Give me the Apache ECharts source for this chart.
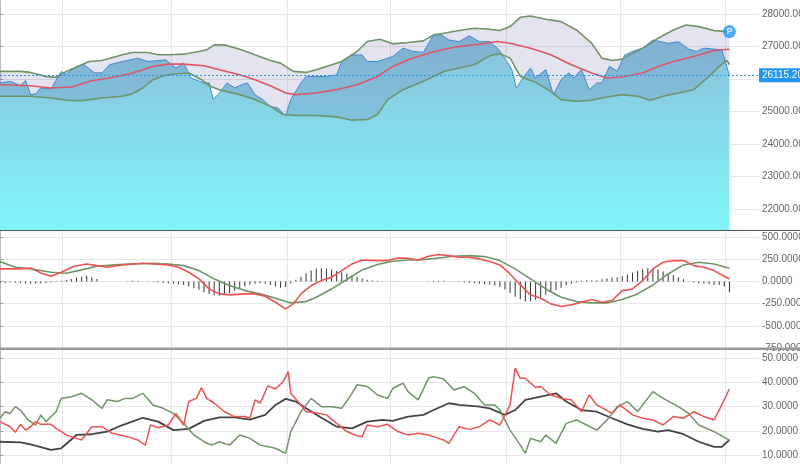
<!DOCTYPE html>
<html>
<head>
<meta charset="utf-8">
<script src="https://cdn.jsdelivr.net/npm/echarts@6/dist/echarts.min.js"></script>
<style>html,body{margin:0;padding:0;background:#fff}#c{width:800px;height:464px}</style>
</head>
<body>
<div id="c"></div>
<script>
// x is session number, y in price / indicator units
const price = [[0,25880],[2,25930],[4,25800],[5,25960],[6,25520],[7,25540],[8,25730],[10,25700],[12,26230],[13,26150],[15,26390],[16.5,26440],[18.5,26190],[20,26190],[21.5,26440],[24,26540],[27,26640],[29,26540],[32.5,26590],[34.5,26340],[36,26490],[37.5,26030],[40,25880],[41,25880],[41.8,25370],[43,25570],[44.5,25880],[46,25730],[47.5,25830],[48.5,25880],[50,25520],[51.5,25370],[53,25160],[54.5,25110],[56,24860],[57,25370],[59,25880],[60,26080],[64,26080],[66,26130],[67,26540],[69,26740],[71,26740],[72,26540],[74,26540],[77,26690],[79,26950],[81,26850],[83,26820],[85,27360],[86.5,27360],[88,27200],[90,27150],[92,27330],[94,27150],[96,27150],[97.5,26950],[99,26640],[100,26390],[100.5,26230],[101.2,25720],[102.5,26030],[104,26340],[105,26030],[107,26290],[108.5,25520],[110,25980],[111.5,26190],[112.5,26030],[114,26290],[115.5,25670],[117,25880],[118,25880],[119.5,26390],[121,26240],[122.5,26740],[124,26850],[126,26950],[128,27200],[129.5,27150],[131,27100],[133,27150],[135,26920],[136.5,26850],[138,26950],[140,26920],[141.5,26900],[142.2,26540],[143,26115.2]];
const ma = [[0,25827],[6,25796],[10,25725],[14,25756],[18,25950],[22,26050],[26,26184],[30,26388],[33,26460],[36,26460],[40,26408],[43,26286],[47,26133],[50,25980],[53,25796],[56,25572],[58,25521],[62,25572],[66,25674],[70,25827],[74,26082],[77,26388],[80,26592],[84,26796],[87,26918],[90,26999],[94,27071],[97.5,27153],[100,27102],[104,26949],[108,26745],[112,26439],[116,26184],[119,26031],[122,26062],[126,26184],[129,26388],[132,26541],[136,26694],[140,26878],[143,26918]];
const upper = [[0,26235],[4,26235],[6,26204],[9,26082],[11,26051],[13,26235],[16,26439],[17.5,26541],[20,26572],[24,26745],[26,26816],[29,26816],[31,26745],[33,26745],[36,26765],[39,26847],[40.5,26898],[42,27051],[44,27051],[47,26918],[50,26745],[53,26572],[55,26490],[57.5,26235],[60,26204],[62,26286],[64,26388],[67,26541],[70,26847],[72,27153],[74.5,27224],[77,27082],[80,27122],[83,27173],[85,27357],[87,27408],[90,27490],[93,27561],[96,27530],[98,27490],[100,27612],[102,27898],[104,27938],[107,27836],[110,27765],[113,27510],[116,27102],[118,26643],[120,26572],[122,26612],[124,26796],[126,26949],[129,27255],[132,27510],[134.5,27663],[137,27612],[140,27490],[143,27459]];
const lower = [[0,25470],[6,25470],[10,25419],[13,25348],[16,25337],[20,25419],[24,25470],[26,25552],[28,25725],[30,25980],[32,26102],[34,26153],[37,26184],[39.5,25980],[41,25796],[43,25674],[47,25521],[50,25368],[53,25164],[55.5,24909],[58,24878],[62,24878],[66,24838],[69,24736],[72,24756],[74,24909],[76,25368],[79,25674],[83,25929],[87,26235],[90,26337],[93,26439],[96,26714],[98,26776],[100,26643],[102,26082],[105,25898],[108,25623],[110,25368],[113,25317],[116,25348],[119,25450],[122,25521],[125,25470],[127.5,25348],[130,25470],[133,25572],[136,25674],[139,26082],[141,26388],[142.5,26572],[143,26439]];

const dif = [[0,143],[4,143],[6,154],[8,98],[10,60],[12,105],[14.5,173],[17,199],[19,180],[21,162],[24,188],[28,207],[30,199],[33,188],[35,162],[37,105],[39,30],[41,-83],[43,-139],[45,-150],[48,-139],[50,-139],[52,-165],[54,-233],[56,-308],[57.5,-252],[59,-139],[61,-45],[63,11],[65,49],[67,124],[69,199],[71,244],[74,237],[76,237],[78,267],[80,263],[82,244],[84,286],[86,305],[88,293],[90,274],[92,274],[94,256],[96,226],[98,188],[100,86],[102,-38],[104,-150],[106,-188],[108,-252],[110,-282],[112,-263],[114,-233],[116,-203],[118,-233],[120,-214],[122,-102],[124,-83],[126,11],[128,143],[130,218],[132,237],[134,237],[136,180],[138,162],[140,124],[142,60],[143,30]];
const dea = [[0,226],[3,162],[6,143],[10,105],[13,94],[16,132],[19,173],[22,188],[26,199],[30,207],[33,199],[36,180],[39,124],[42,30],[45,-45],[48,-102],[51,-139],[54,-188],[57,-241],[60,-226],[62,-177],[65,-83],[68,23],[71,132],[74,192],[77,229],[80,244],[83,248],[86,267],[89,286],[92,293],[95,282],[98,237],[101,143],[104,30],[107,-83],[110,-177],[113,-226],[116,-241],[119,-241],[122,-203],[125,-139],[128,-38],[131,86],[134,188],[137,218],[140,199],[143,150]];
const macdHist = [-20,-15,-10,-12,-15,-20,-25,-25,-22,-15,-10,-5,
  10,20,30,45,55,65,50,30, 5,0,0,0,0, 5,8,10,5,3,
  -5,-10,-15,-20,-25,-30,-40,
  -55,-75,-95,-120,-140,-155,-160,-150,-130,-105,-80,
  -55,-35,-25,-20,-25,-40,-55,-70,-60, -20,
  20,55,95,125,148,150,145,135,120,105,90,75,55,35,20,
  12,8,5,5,3,3,0,0,0,0,0, 5,8,10,8,5,3,
  -5,-10,-15,-20,-25,-30,-35,-45,-60,
  -90,-130,-170,-200,-225,-220,-205,-180,-150,-120,-95,-70,
  -45,-25,-10, 10,15,12,15,25,35,45,50,
  60,80,100,120,140,150,148,135,115,95,75,50,
  25,5,-10,-20,-25,-30,-35,-40,-55,-120];

const pdi = [[0,23.8],[2,21.7],[3,19.4],[4,22.7],[5,20.3],[6,21.7],[7,23.8],[8,22.7],[10,22.7],[11,21],[13,18.3],[15,16.9],[16,16.2],[18,21.7],[20,21.7],[22,19],[25,17.6],[27,16.2],[28.5,14.1],[29.5,22.4],[31,21.3],[33,22.4],[34.5,27.2],[36,22.4],[37,32.1],[38.5,33.4],[39.5,37.9],[40.5,33.4],[42,31.4],[44,27.9],[46,25.9],[48,25.9],[49,25.2],[50,32.8],[51,31.4],[52.5,38.6],[54,37.3],[55.5,40.3],[56.5,44.5],[57,35.5],[59,30.7],[60,27.9],[62,27.5],[64,26.6],[66,23.1],[68,19.7],[70,18],[71,17.6],[72,22.4],[74,21.7],[76,22.7],[78,19.7],[80,18.3],[82,19],[84,18.3],[86,16.9],[87,16.2],[88,14.8],[90,21.7],[92,20.6],[94,21.7],[96,24.5],[98,22.4],[100,30.7],[101,45.9],[102,41.7],[103,41.7],[105,37.9],[106,38.3],[108,34.8],[110,33.4],[112,32.8],[114,27.9],[115.5,34.8],[117,30.7],[120,27.2],[121.5,30.7],[124,26.6],[126,25.2],[128,24.5],[130,22.4],[132,25.9],[134,25.2],[136,27.9],[138,25.9],[140,24.5],[141.5,30.7],[143,37.3]];
const mdi = [[0,25.2],[1,27.9],[2,27.2],[3,30],[4,28.6],[5.5,24.5],[7,22.4],[8,26.6],[9,23.8],[11,27.9],[12,33.4],[14,34.1],[16,35.5],[18,32.8],[20,29.3],[21,32.8],[23,32.1],[24.5,33.4],[26,33.4],[28,35.5],[30,30.7],[32,29.3],[34,27.2],[36,23.1],[38,18.3],[40,15.5],[41.5,14.1],[43,15.5],[45,14.1],[47,18.3],[49,16.9],[51,14.1],[54,12.8],[56,10.7],[57,19.7],[59,27.9],[61,33.4],[63,30],[65,30],[67,29.3],[69,35.5],[70,39],[72,38.3],[74,34.8],[76,33.4],[77,37.5],[79,39.7],[80,36.2],[82,32.8],[84,41.7],[85,42.4],[87,41.4],[89,36.9],[91,38.3],[93,35.5],[95,30.7],[97,30.7],[98,28.6],[100,20.3],[102,14.1],[103,10.7],[104,16.9],[106,15.5],[107,18.3],[109,14.8],[111,23.1],[113,24.5],[115,22.4],[117,20.3],[119,24.5],[121,30],[123,32.1],[125,28],[128,36.2],[130,33.4],[133,30],[135,27.2],[137,22.4],[140,19.7],[143,16.2]];
const adx = [[0,15.5],[4,15.2],[6,14.4],[10,12.1],[12,12.8],[15,18.3],[18,18.6],[21,19.7],[24,22.4],[28,25.4],[31,23.8],[34,20.3],[37,20.8],[40,24.1],[43,25.6],[46,25.6],[49,24.6],[52,26.6],[54,30.7],[56,33.2],[58,32.1],[60,29.3],[63,25.4],[66,21.7],[69,21],[72,23.8],[75,24.5],[77,24.1],[80,25.9],[83,26.6],[85,28.6],[88,31.4],[90,30.7],[94,30],[96,29.3],[99,26.6],[101,28.6],[103,32.8],[106,34.1],[109,35.5],[111,32.1],[114,28.6],[117,27.9],[120,25.2],[123,22.7],[126,20.8],[129,19.7],[131,20.3],[134,18.6],[137,15.5],[140,13.4],[141.5,13.4],[143,16.2]];

const priceTicks = [22000,23000,24000,25000,26000,27000,28000];
const macdTicks = [-750,-500,-250,0,250,500];
const dmiTicks = [10,20,30,40,50];
const timeGrid = [12.2,33.6,56.3,76.6,99.2,121.6,142.2];
const lastPrice = 26115.2;

const GREEN = '#6f9468', RED = '#ef5350', LABEL = '#666';

function yAx(idx, min, max, ticks, dec) {
  return {
    type: 'value', gridIndex: idx, position: 'right', min: () => min, max: () => max,
    splitLine: { show: false },
    axisLine: { show: true, lineStyle: { color: '#bbb' } },
    axisTick: { show: true, length: 3, customValues: ticks, lineStyle: { color: '#999' } },
    axisLabel: { customValues: ticks, color: LABEL, fontSize: 10, margin: 3,
      fontFamily: 'Liberation Sans', formatter: v => v.toFixed(dec) }
  };
}
function gridLines(idx, ticks) {
  return {
    type: 'line', xAxisIndex: idx, yAxisIndex: idx, data: [], silent: true, z: 0,
    markLine: { silent: true, symbol: 'none', label: { show: false }, z: 0,
      lineStyle: { color: '#e6e6e6', type: 'solid', width: 1 },
      data: ticks.map(v => ({ yAxis: v })).concat(timeGrid.map(v => ({ xAxis: v }))) }
  };
}
function xAx(idx) {
  return { type: 'value', gridIndex: idx, min: () => 0, max: () => 148.8, show: false };
}
function ln(idx, data, color, w, z) {
  return { type: 'line', xAxisIndex: idx, yAxisIndex: idx, data, symbol: 'none',
    lineStyle: { color, width: w || 1.5 }, z: z || 3, silent: true };
}

const chart = echarts.init(document.getElementById('c'));
chart.setOption({
  animation: false,
  grid: [
    { left: 0, right: 41, top: 0, height: 230, outerBoundsMode: 'none', containLabel: false },
    { left: 0, right: 41, top: 231, height: 117, outerBoundsMode: 'none', containLabel: false },
    { left: 0, right: 41, top: 350, height: 114, outerBoundsMode: 'none', containLabel: false }
  ],
  xAxis: [xAx(0), xAx(1), xAx(2)],
  yAxis: [yAx(0, 21360, 28430, priceTicks, 2), yAx(1, -750, 571, macdTicks, 4), yAx(2, 6.3, 53.4, dmiTicks, 4)],
  graphic: [
    { type: 'rect', shape: { x: 0, y: 230, width: 800, height: 1 }, style: { fill: '#555' }, z: 100 },
    { type: 'rect', shape: { x: 0, y: 347.5, width: 800, height: 2.5 }, style: { fill: '#9a9a9a' }, z: 100 }
  ],
  series: [
    gridLines(0, priceTicks), gridLines(1, macdTicks), gridLines(2, dmiTicks),
    { type: 'line', data: price, symbol: 'none', z: 1, silent: true,
      lineStyle: { color: '#3d8fd8', width: 1 },
      areaStyle: { origin: 'start', opacity: 1, color: new echarts.graphic.LinearGradient(0, 0, 0, 1, [
        { offset: 0, color: '#8ac0da' }, { offset: 1, color: '#80f6f9' }]) },
      markLine: { silent: true, symbol: 'none', z: 4,
        lineStyle: { color: '#2196f3', type: [2, 2], width: 1 },
        label: { position: 'end', distance: 0, formatter: lastPrice.toFixed(2), color: '#fff',
          backgroundColor: '#2196f3', padding: [2, 3], fontSize: 10, fontFamily: 'Liberation Sans' },
        data: [{ yAxis: lastPrice }] } },
    { type: 'custom', data: [[0, 26000]], z: 2, silent: true,
      renderItem: (params, api) => {
        const pts = upper.map(p => api.coord(p)).concat(lower.slice().reverse().map(p => api.coord(p)));
        return { type: 'polygon', shape: { points: pts }, style: { fill: 'rgba(95,95,165,0.17)' } };
      } },
    ln(0, upper, GREEN, 1.6), ln(0, lower, GREEN, 1.6), ln(0, ma, '#e05565', 1.6),
    { type: 'scatter', data: [upper[upper.length - 1]], symbolSize: 13, z: 5,
      itemStyle: { color: '#2196f3' },
      label: { show: true, formatter: 'P', color: '#fff', fontSize: 9, fontWeight: 'bold' } },
    { type: 'bar', xAxisIndex: 1, yAxisIndex: 1, data: macdHist.map((v, i) => [i, v]),
      barWidth: 1, itemStyle: { color: '#333' }, silent: true, z: 2 },
    ln(1, dea, GREEN, 1.6), ln(1, dif, RED, 1.6),
    ln(2, adx, '#444', 1.8), ln(2, mdi, GREEN, 1.5), ln(2, pdi, RED, 1.5)
  ]
});
</script>
</body>
</html>
